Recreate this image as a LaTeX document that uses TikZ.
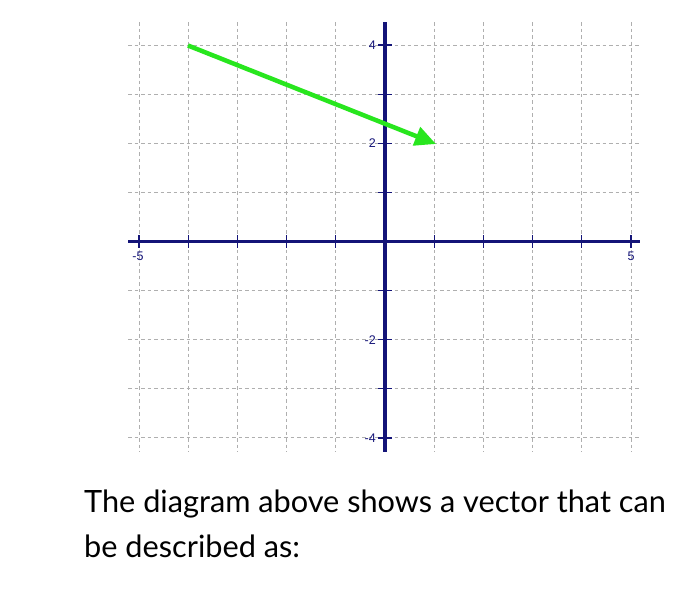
\documentclass[tikz,border=0pt]{standalone}
\usepackage{fontspec}
\setmainfont{Lato}
\newfontfamily\axfont{Liberation Sans}
\usetikzlibrary{arrows.meta}
\definecolor{axisblue}{RGB}{20,20,120}
\definecolor{vecgreen}{RGB}{40,230,30}
\definecolor{gridgray}{RGB}{175,175,175}
\begin{document}
\begin{tikzpicture}[x=1pt,y=-1pt,
  gridline/.style={gridgray, line width=1pt, dash pattern=on 3.5pt off 3pt},
  axisline/.style={axisblue, line width=3.2pt},
  tickline/.style={axisblue, line width=1.3pt},
  ticklabel/.style={text=axisblue, font=\axfont\fontsize{12.5}{12.5}\selectfont, inner sep=1pt},
  vec/.style={vecgreen, line width=4.5pt, -{Triangle[length=21pt,width=19pt]}}]
\useasboundingbox (0,0) rectangle (700,592);
\fill[white] (0,0) rectangle (700,592);
% grid
\foreach \i in {-5,...,5} {
  \draw[gridline] ({385+49.2*\i},22) -- ({385+49.2*\i},452);
}
\foreach \j in {-4,...,4} {
  \draw[gridline] (128,{241.5-49.1*\j}) -- (640,{241.5-49.1*\j});
}
% axes
\draw[axisline] (128,241.5) -- (640,241.5);
\draw[axisline] (385,22) -- (385,452);
% ticks
\foreach \i in {-5,...,-1,1,2,...,5} {
  \draw[tickline] ({385+49.2*\i},235) -- ({385+49.2*\i},248);
}
\foreach \j in {-4,...,-1,1,2,...,4} {
  \draw[tickline] (378,{241.5-49.1*\j}) -- (392,{241.5-49.1*\j});
}
% labels
\node[ticklabel, anchor=east] (l4) at (377,45) {4};
\node[ticklabel, anchor=east] (l2) at (377,143.3) {2};
\node[ticklabel, anchor=east] (lm2) at (377,339.7) {-2};
\node[ticklabel, anchor=east] (lm4) at (377,438) {-4};
\node[ticklabel, anchor=north] (lm5) at (138,251) {-5};
\node[ticklabel, anchor=north] (l5) at (631,251) {5};
% vector
\coordinate (vs) at (188,45.5);
\coordinate (ve) at (436,144);
\draw[vec] (vs) -- (ve);
% caption
\node[anchor=base west, inner sep=0pt, font=\fontsize{30.7}{30.7}\selectfont] (c1) at (84,512) {The diagram above shows a vector that can};
\node[anchor=base west, inner sep=0pt, font=\fontsize{30.7}{30.7}\selectfont] (c2) at (84,557) {be described as:};
\end{tikzpicture}
\end{document}
